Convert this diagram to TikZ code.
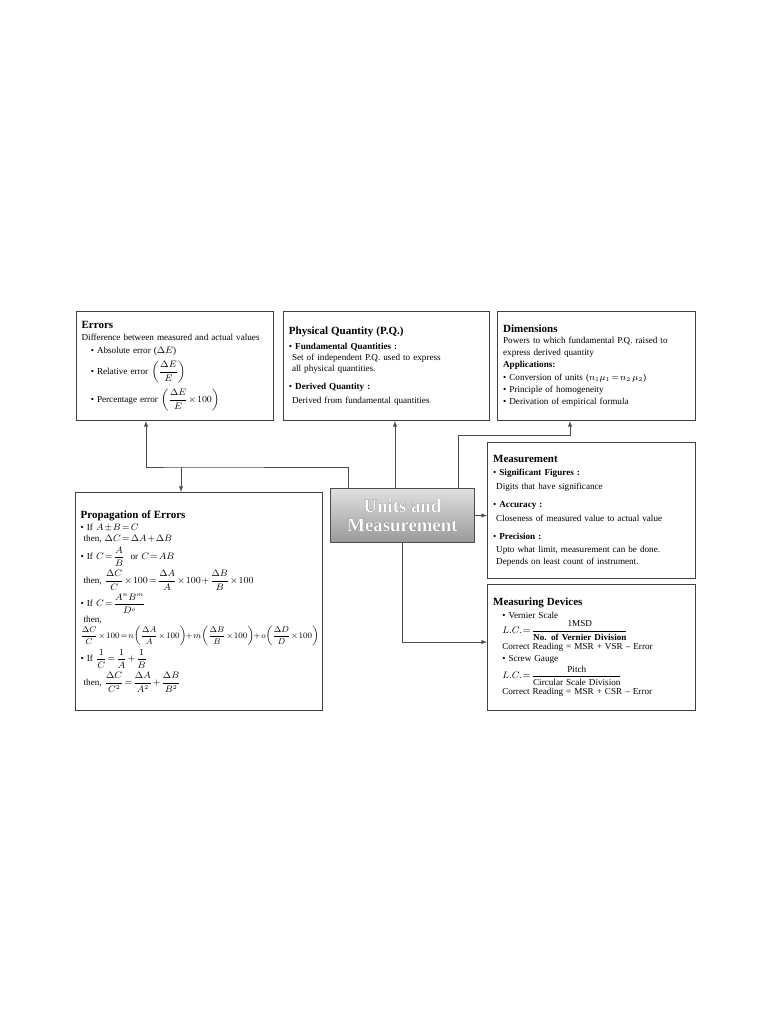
\documentclass[tikz,border=0pt]{standalone}
\usepackage{fontspec}
\setmainfont{Liberation Serif}
\usepackage{amsmath}
\usepackage{graphicx}
\usepackage[outline]{contour}
\usetikzlibrary{positioning}
\newcommand{\boxfont}{\fontsize{7.8}{9.6}\selectfont\medmuskip=1.5mu\relax\thickmuskip=2mu\relax\lineskip=2pt\relax}
\tikzset{
  infobox/.style={draw=black!75, line width=0.8pt, anchor=north west, align=left,
    inner sep=4pt, font=\boxfont},
  link/.style={draw=black!70, line width=0.7pt},
  arr/.style={link, -latex},
}
\newcommand{\boxhead}[1]{{\fontsize{9.4}{11}\selectfont\bfseries #1}}
\newcommand{\itm}{\textbullet\ }
\begin{document}
\begin{tikzpicture}[x=0.03cm,y=-0.03cm]
\useasboundingbox (0,0) rectangle (768,1024);
% boxes
\node[infobox, text width=5.6cm, minimum width=5.91cm, minimum height=3.27cm] (err) at (76,311) {%
\boxhead{Errors}\\[1pt]
Difference between measured and actual values\\[1pt]
\quad\itm Absolute error ($\Delta E$)\\[3pt]
\quad\itm Relative error $\left(\dfrac{\Delta E}{E}\right)$\\[3pt]
\quad\itm Percentage error $\left(\dfrac{\Delta E}{E}\times 100\right)$};
\node[infobox, text width=5.85cm, minimum width=6.18cm, minimum height=3.27cm] (pq) at (283,311) {%
\boxhead{Physical Quantity (P.Q.)}\\[3pt]
\itm\textbf{Fundamental Quantities :}\\
\ Set of independent P.Q. used to express\\
\ all physical quantities.\\[6pt]
\itm\textbf{Derived Quantity :}\\[2pt]
\ Derived from fundamental quantities\\[6pt]};
\node[infobox, text width=5.6cm, minimum width=5.94cm, minimum height=3.27cm] (dim) at (497,311) {%
\boxhead{Dimensions}\\
Powers to which fundamental P.Q. raised to\\
express derived quantity\\[1pt]
\textbf{Applications:}\\[1pt]
\itm Conversion of units ($n_1\mu_1=n_2\,\mu_2$)\\[1pt]
\itm Principle of homogeneity\\[1pt]
\itm Derivation of empirical formula};
\node[infobox, text width=5.9cm, minimum width=6.24cm, minimum height=4.08cm] (meas) at (487,442) {%
\boxhead{Measurement}\\[2pt]
\itm\textbf{Significant Figures :}\\[2pt]
\ Digits that have significance\\[6pt]
\itm\textbf{Accuracy :}\\[2pt]
\ Closeness of measured value to actual value\\[6pt]
\itm\textbf{Precision :}\\[2pt]
\ Upto what limit, measurement can be done.\\
\ Depends on least count of instrument.};
\node[infobox, text width=5.9cm, minimum width=6.24cm, minimum height=3.78cm] (dev) at (487,584) {%
\boxhead{Measuring Devices}\\[1pt]
\quad\itm Vernier Scale\\
\quad$L.C.=\dfrac{\text{1MSD}}{\text{\bfseries No. of Vernier Division}}$\\
\quad Correct Reading = MSR + VSR -- Error\\[1pt]
\quad\itm Screw Gauge\\
\quad$L.C.=\dfrac{\text{Pitch}}{\text{Circular Scale Division}}$\\
\quad Correct Reading = MSR + CSR -- Error};
\node[infobox, text width=7.1cm, minimum width=7.41cm, minimum height=6.54cm] (prop) at (75,492) {%
\boxhead{Propagation of Errors}\\[1pt]
\itm If $A\pm B=C$\\
\ then, $\Delta C=\Delta A+\Delta B$\\[1pt]
\itm If $C=\dfrac{A}{B}$\ \ or $C=AB$\\[1pt]
\ then, $\dfrac{\Delta C}{C}\times100=\dfrac{\Delta A}{A}\times100+\dfrac{\Delta B}{B}\times100$\\[1pt]
\itm If $C=\dfrac{A^nB^m}{D^o}$\\
\ then,\\
\scalebox{0.9}{$\dfrac{\Delta C}{C}\times100=n\!\left(\dfrac{\Delta A}{A}\times100\right)\!+m\!\left(\dfrac{\Delta B}{B}\times100\right)\!+o\!\left(\dfrac{\Delta D}{D}\times100\right)$}\\[1pt]
\itm If $\dfrac{1}{C}=\dfrac{1}{A}+\dfrac{1}{B}$\\[1pt]
\ then, $\dfrac{\Delta C}{C^2}=\dfrac{\Delta A}{A^2}+\dfrac{\Delta B}{B^2}$};
% centre
\node[draw=black!70, line width=0.8pt, anchor=north west, minimum width=4.32cm, minimum height=1.62cm,
  top color=black!12, bottom color=black!40, align=center,
  font=\fontsize{16}{16}\selectfont\bfseries] (um) at (330,488)
  {\contourlength{0.6pt}\contour{black!85}{\color{white}Units and}\\[0pt]
   \contourlength{0.6pt}\contour{black!85}{\color{white}Measurement}};
% connectors
\coordinate (c1) at (348,488);
\coordinate (c2) at (395,488);
\coordinate (c3) at (458,488);
\coordinate (c4) at (402,542);
\draw[arr] (c1) |- (181,467) -| (err.south -| 146,0);
\draw[arr] (181,467) -- (prop.north -| 181,0);
\draw[arr] (c2) -- (pq.south -| c2);
\draw[arr] (c3) |- (570,435) -- (dim.south -| 570,0);
\draw[arr] (um.east) -- (um.east -| meas.west);
\draw[arr] (c4) |- (dev.west |- 0,642);
\end{tikzpicture}
\end{document}
